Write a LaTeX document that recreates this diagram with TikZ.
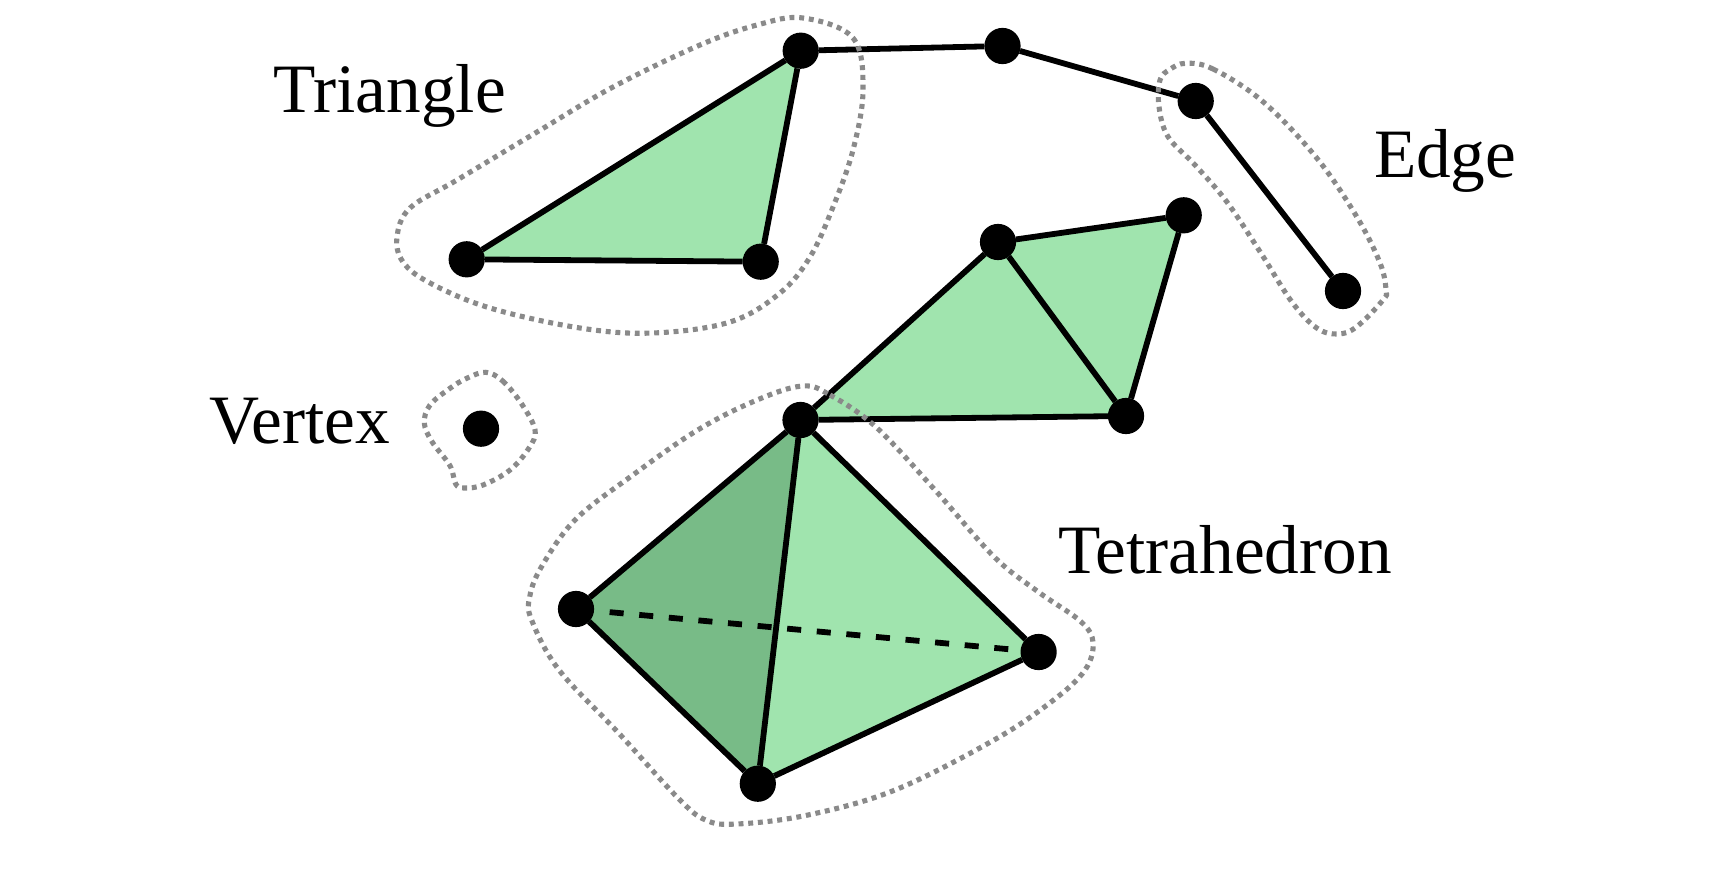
\documentclass[tikz,border=0pt]{standalone}
\usepackage{fontspec}
\setmainfont{Liberation Serif}
\usetikzlibrary{backgrounds}
\definecolor{verdeclaro}{HTML}{A0E4AE}
\definecolor{verdeoscuro}{HTML}{78BB87}
\definecolor{gris}{HTML}{8A8A8A}

\begin{document}
\begin{tikzpicture}[x=0.01cm,y=-0.01cm,
   punto/.style={circle,fill=black,inner sep=0pt,outer sep=0pt,minimum size=10.3pt},
   arista/.style={black,line width=1.65pt},
   oculta/.style={black,line width=1.65pt,dash pattern=on 4pt off 4.45pt,dash phase=4pt},
   borde/.style={gris,line width=1.45pt,dash pattern=on 1.4pt off 1.36pt},
   rotulo/.style={anchor=base west,inner sep=0pt,outer sep=0pt,font=\fontsize{19.7}{23}\selectfont}]
  \useasboundingbox (0,0) rectangle (1716,888);

  % vertices
  \foreach \n/\x/\y in {triA/800.7/50.7,triB/466.7/259.3,triC/760.7/261.7,
      cadA/1002.5/46,edgeA/1195.7/101,edgeB/1343/291,
      romA/998/242,romB/1183.7/215.3,romC/1126/416,
      tetA/800.5/420,tetB/576/609,tetC/757.8/783.7,tetD/1038.6/652,
      solo/481/428.7}
    \node[punto] (\n) at (\x,\y) {};

  % caras
  \begin{scope}[on background layer]
    \fill[verdeclaro] (triA.center) -- (triB.center) -- (triC.center) -- cycle;
    \fill[verdeclaro] (tetA.center) -- (romA.center) -- (romC.center) -- cycle;
    \fill[verdeclaro] (romA.center) -- (romB.center) -- (romC.center) -- cycle;
    \fill[verdeclaro] (tetA.center) -- (tetD.center) -- (tetC.center) -- cycle;
    \fill[verdeoscuro] (tetA.center) -- (tetB.center) -- (tetC.center) -- cycle;
  \end{scope}

  % aristas
  \foreach \a/\b in {triA/triB,triB/triC,triC/triA,triA/cadA,cadA/edgeA,edgeA/edgeB,
      tetA/romA,romA/romB,romB/romC,romC/romA,romC/tetA,
      tetA/tetB,tetB/tetC,tetC/tetD,tetD/tetA,tetA/tetC}
    \draw[arista] (\a) -- (\b);
  \draw[oculta] (tetB) -- (tetD);

  % contornos punteados
  \draw[borde] plot[smooth cycle,tension=0.6] coordinates {(803,18) (853,38) (863,90) (853,150)
      (833,207) (810,257) (780,293) (730,322) (653,333) (580,328) (490,308) (430,283)
      (403,262) (397,237) (410,208) (457,180) (537,132) (613,87) (700,45) (757,25)};
  \draw[borde] plot[smooth cycle,tension=0.6] coordinates {(1185.7,63.3) (1213,69) (1263,101.7)
      (1316.7,158) (1356.7,216.7) (1380,263) (1386,290) (1383,300) (1356.7,326.7) (1338,334)
      (1316.7,328) (1291.7,301.7) (1260,251.7) (1226.7,201.7) (1195,165) (1168,136.7)
      (1159,106.7) (1160,80) (1170,69.3)};
  \draw[borde] plot[smooth cycle,tension=0.6] coordinates {(485.7,372.3) (502.7,381) (521.7,404)
      (535,430) (529,448) (510,470) (483,485) (464,488) (455.7,484) (450,465.7) (432,441.7)
      (424.3,423) (430,405) (450,388.3) (466.7,378.3)};
  \draw[borde] plot[smooth cycle,tension=0.6] coordinates {(802.5,386) (830,395) (875.6,426.7)
      (935,490) (994,556.7) (1038,591.7) (1081,621.7) (1093,643) (1085,670) (1053.6,700)
      (994,740) (895,790) (808,815) (737,824) (705.6,820) (678,798) (618.6,733) (559,670)
      (531.6,620) (529.7,596.7) (541.5,566.7) (575,520) (630.5,476.7) (697.7,430) (757,400)};

  % rotulos
  \node[rotulo] (rotTri) at (273.6,113) {Triangle};
  \node[rotulo] (rotEdge) at (1374,177) {Edge};
  \node[rotulo] (rotVer) at (209,443) {Vertex};
  \node[rotulo] (rotTet) at (1058,573) {Tetrahedron};
\end{tikzpicture}
\end{document}
